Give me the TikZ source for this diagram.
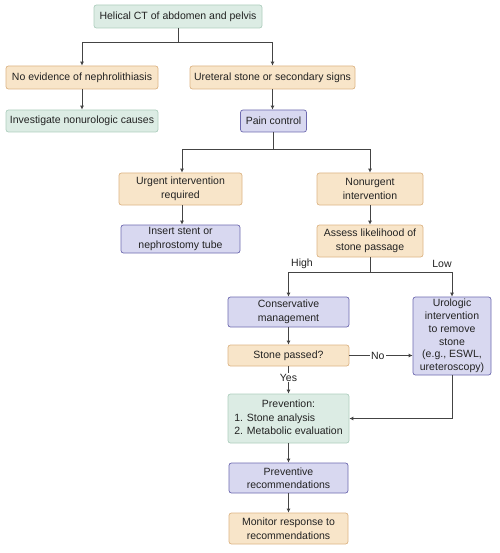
\documentclass[tikz,border=0pt]{standalone}
\usepackage{fontspec}
\setmainfont{Liberation Sans}
\usetikzlibrary{arrows.meta}
\definecolor{gfill}{HTML}{DCECE4}
\definecolor{gdraw}{HTML}{AFCFBF}
\definecolor{ofill}{HTML}{F8E5C9}
\definecolor{odraw}{HTML}{DDB585}
\definecolor{pfill}{HTML}{D8D8F0}
\definecolor{pdraw}{HTML}{6E6AB0}
\definecolor{txt}{HTML}{222222}
\definecolor{ln}{HTML}{444444}
\tikzset{
  box/.style={draw, rounded corners=2.5pt, inner sep=0pt, align=center, text=txt,
    font=\fontsize{10.5}{13.5}\selectfont, line width=0.7pt},
  gbox/.style={box, fill=gfill, draw=gdraw},
  obox/.style={box, fill=ofill, draw=odraw},
  pbox/.style={box, fill=pfill, draw=pdraw},
  conn/.style={draw=ln, line width=0.8pt},
  arr/.style={conn, -{Latex[length=4pt,width=4pt]}},
  lbl/.style={text=txt, font=\fontsize{10.5}{13.5}\selectfont, inner sep=1pt},
}
\begin{document}
\begin{tikzpicture}[x=1pt,y=-1pt]
\useasboundingbox (0,0) rectangle (499,553);
\fill[white] (0,0) rectangle (499,553);
\node[gbox, minimum width=168pt, minimum height=23pt] (ct) at (178,16.5) {Helical CT of abdomen and pelvis};
\node[obox, minimum width=152pt, minimum height=23pt] (noev) at (82,77.5) {No evidence of nephrolithiasis};
\node[obox, minimum width=165pt, minimum height=23pt] (ure) at (272.5,77.5) {Ureteral stone or secondary signs};
\node[gbox, minimum width=152pt, minimum height=22pt] (inv) at (82,121) {Investigate nonurologic causes};
\node[pbox, minimum width=66pt, minimum height=22pt] (pain) at (273.5,121) {Pain control};
\node[obox, minimum width=123pt, minimum height=32pt] (urg) at (180.5,189) {Urgent intervention\\required};
\node[obox, minimum width=106pt, minimum height=32pt] (nonurg) at (370,189) {Nonurgent\\intervention};
\node[pbox, minimum width=119pt, minimum height=28pt] (stent) at (180.5,239) {Insert stent or\\nephrostomy tube};
\node[obox, minimum width=106pt, minimum height=32pt] (assess) at (370,241) {Assess likelihood of\\stone passage};
\node[pbox, minimum width=121pt, minimum height=30pt] (cons) at (288.5,312) {Conservative\\management};
\node[pbox, minimum width=78pt, minimum height=78pt, font=\fontsize{10.5}{12.8}\selectfont] (uro) at (452,336) {Urologic\\intervention\\to remove\\stone\\(e.g., ESWL,\\ureteroscopy)};
\node[obox, minimum width=121pt, minimum height=21pt] (passed) at (288.5,355.5) {Stone passed?};
\node[gbox, minimum width=121pt, minimum height=49pt] (prev) at (288.5,418.5) {\begin{tabular}{@{}l@{}}\multicolumn{1}{@{}c@{}}{Prevention:}\\1. Stone analysis\\2. Metabolic evaluation\end{tabular}};
\node[pbox, minimum width=119pt, minimum height=30pt] (prevrec) at (288.5,478) {Preventive\\recommendations};
\node[obox, minimum width=119pt, minimum height=31pt] (mon) at (288.5,528.5) {Monitor response to\\recommendations};
\coordinate (j1) at (178,42);
\coordinate (j2) at (273.5,149);
\coordinate (j3) at (370,272.5);
\draw[conn] (ct.south) -- (j1);
\draw[arr] (j1) -| (noev.north);
\draw[arr] (j1) -| (ure.north);
\draw[arr] (noev) -- (inv);
\draw[arr] (ure.south) -- (ure.south |- pain.north);
\draw[conn] (pain.south) -- (j2);
\draw[arr] (j2) -| ([xshift=1.5pt]urg.north);
\draw[arr] (j2) -| (nonurg.north);
\draw[arr] ([xshift=1.5pt]urg.south) -- ([xshift=1.5pt]stent.north);
\draw[arr] (nonurg) -- (assess);
\draw[conn] (assess.south) -- (j3);
\draw[arr] (j3) -| (cons.north);
\draw[arr] (j3) -| (uro.north);
\node[lbl] (high) at (302,264) {High};
\node[lbl] (low) at (442,264) {Low};
\draw[arr] (cons) -- (passed);
\draw[arr] (passed) -- node[lbl, fill=white, pos=0.45] (no) {No} (uro.west |- passed.east);
\draw[arr] (passed) -- node[lbl, fill=white, pos=0.42] (yes) {Yes} (prev);
\draw[arr] (uro.south) |- (prev.east);
\draw[arr] (prev) -- (prevrec);
\draw[arr] (prevrec) -- (mon);
\end{tikzpicture}
\end{document}
